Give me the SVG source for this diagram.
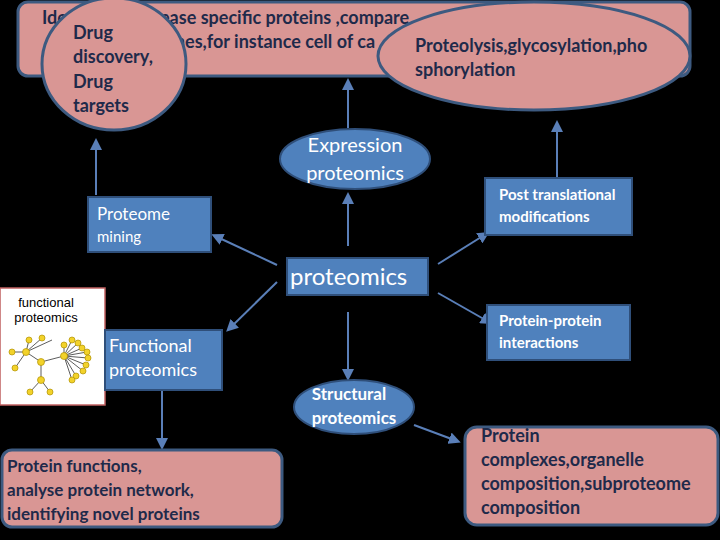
<svg xmlns="http://www.w3.org/2000/svg" width="720" height="540" viewBox="0 0 720 540">
<style>
.pk{fill:#d99694;stroke:#3d5a80;stroke-width:3}
.bl{fill:#4f81bd;stroke:#2f4f7a;stroke-width:2}
.dt{font-family:Lato,"Liberation Sans",sans-serif;font-weight:bold;fill:#1f2a4a}
.wt{font-family:Lato,"Liberation Sans",sans-serif;fill:#fff}
.c{stroke:#5a7fb8;stroke-width:2;fill:none;marker-end:url(#a)}
</style>
<defs><marker id="a" markerWidth="6" markerHeight="6" refX="4" refY="3" orient="auto"><path d="M0,0L6,3L0,6z" fill="#5a7fb8"/></marker></defs>
<rect width="720" height="540" fill="#000"/>
<g id="connectors">
<line class="c" x1="96" y1="195" x2="96" y2="142"/>
<line class="c" x1="557" y1="178" x2="557" y2="124"/>
<line class="c" x1="348" y1="128" x2="348" y2="82"/>
<line class="c" x1="348" y1="246" x2="348" y2="196"/>
<line class="c" x1="277" y1="265" x2="215" y2="236"/>
<line class="c" x1="277" y1="282" x2="229" y2="329"/>
<line class="c" x1="438" y1="264" x2="486" y2="234"/>
<line class="c" x1="438" y1="293" x2="489" y2="322"/>
<line class="c" x1="348" y1="312" x2="348" y2="377"/>
<line class="c" x1="414" y1="425" x2="457" y2="441"/>
<line class="c" x1="162" y1="391" x2="162" y2="446"/>
</g>
<g id="top">
<rect class="pk" x="18" y="2" width="672" height="74" rx="10"/>
<text class="dt" font-size="18" x="42" y="24">Ide</text>
<text class="dt" font-size="18" x="160" y="24">ease specific proteins ,compare</text>
<text class="dt" font-size="18" x="170" y="48">mes,for instance cell of ca</text>
</g>
<g id="drug">
<ellipse class="pk" cx="114" cy="64" rx="72" ry="66"/>
<text class="dt" font-size="18"><tspan x="73" y="39">Drug</tspan><tspan x="73" y="63">discovery,</tspan><tspan x="73" y="88">Drug</tspan><tspan x="73" y="112">targets</tspan></text>
</g>
<g id="ptmdetail">
<ellipse class="pk" cx="534" cy="56" rx="156" ry="54"/>
<text class="dt" font-size="18"><tspan x="415" y="52">Proteolysis,glycosylation,pho</tspan><tspan x="415" y="76">sphorylation</tspan></text>
</g>
<g id="expression">
<ellipse class="bl" cx="355" cy="159" rx="75" ry="30"/>
<text class="wt" font-size="20" text-anchor="middle"><tspan x="355" y="152">Expression</tspan><tspan x="355" y="180">proteomics</tspan></text>
</g>
<g id="ptm">
<rect class="bl" x="485" y="178" width="147" height="57"/>
<text class="wt" font-size="15" font-weight="bold"><tspan x="499" y="200">Post translational</tspan><tspan x="499" y="222">modifications</tspan></text>
</g>
<g id="mining">
<rect class="bl" x="88" y="197" width="123" height="55"/>
<text class="wt"><tspan x="97" y="220" font-size="17">Proteome</tspan><tspan x="97" y="242" font-size="15">mining</tspan></text>
</g>
<g id="proteomics">
<rect class="bl" x="287" y="258" width="141" height="37"/>
<text class="wt" x="290" y="285" font-size="24">proteomics</text>
</g>
<g id="image">
<rect x="0" y="288" width="105" height="117" fill="#fff" stroke="#c06060" stroke-width="1.5"/>
<text font-family="Liberation Sans,sans-serif" font-size="13" text-anchor="middle" fill="#000"><tspan x="46" y="307">functional</tspan><tspan x="46" y="322">proteomics</tspan></text>
<g stroke="#333" stroke-width="0.8">
<path d="M26,352L42,338M26,352L12,352M26,352L15,368M26,352L29,340M26,352L41,362M41,362L64,356M41,362L41,380M41,380L30,392M41,380L50,392M26,352L52,340M64,356L64,345M64,356L72,340M64,356L78,343M64,356L82,348M64,356L87,352M64,356L88,358M64,356L86,365M64,356L83,371M64,356L76,376M64,356L72,380"/>
</g>
<g fill="#f2d22a" stroke="#b09000" stroke-width="0.7">
<circle cx="26" cy="352" r="3.5"/><circle cx="42" cy="338" r="3"/><circle cx="29" cy="340" r="3"/><circle cx="12" cy="352" r="3"/><circle cx="15" cy="368" r="3"/><circle cx="41" cy="362" r="3.5"/><circle cx="41" cy="380" r="3.5"/><circle cx="30" cy="392" r="3"/><circle cx="50" cy="392" r="3"/><circle cx="64" cy="356" r="3.5"/><circle cx="64" cy="345" r="3"/><circle cx="72" cy="340" r="3"/><circle cx="78" cy="343" r="3"/><circle cx="82" cy="348" r="3"/><circle cx="87" cy="352" r="3"/><circle cx="88" cy="358" r="3"/><circle cx="86" cy="365" r="3"/><circle cx="83" cy="371" r="3"/><circle cx="76" cy="376" r="3"/><circle cx="72" cy="380" r="3"/>
</g>
</g>
<g id="functional">
<rect class="bl" x="105" y="330" width="117" height="60"/>
<text class="wt" font-size="18"><tspan x="109" y="352">Functional</tspan><tspan x="109" y="376">proteomics</tspan></text>
</g>
<g id="ppi">
<rect class="bl" x="487" y="305" width="143" height="55"/>
<text class="wt" font-size="15" font-weight="bold"><tspan x="499" y="326">Protein-protein</tspan><tspan x="499" y="348">interactions</tspan></text>
</g>
<g id="structural">
<ellipse class="bl" cx="354" cy="407" rx="60" ry="27"/>
<text class="wt" font-size="17" font-weight="bold" text-anchor="middle"><tspan x="349" y="400">Structural</tspan><tspan x="354" y="424">proteomics</tspan></text>
</g>
<g id="functions">
<rect class="pk" x="2" y="450" width="280" height="77" rx="10"/>
<text class="dt" font-size="17"><tspan x="7" y="472">Protein functions,</tspan><tspan x="7" y="496">analyse protein network,</tspan><tspan x="7" y="520">identifying novel proteins</tspan></text>
</g>
<g id="complexes">
<rect class="pk" x="465" y="427" width="253" height="98" rx="12"/>
<text class="dt" font-size="18"><tspan x="481" y="442">Protein</tspan><tspan x="481" y="466">complexes,organelle</tspan><tspan x="481" y="490">composition,subproteome</tspan><tspan x="481" y="514">composition</tspan></text>
</g>
</svg>
